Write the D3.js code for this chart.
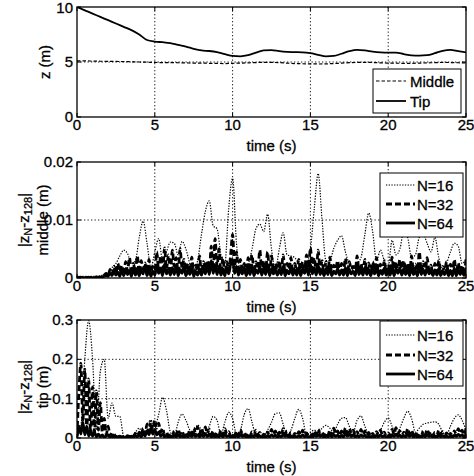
<!DOCTYPE html>
<html><head><meta charset="utf-8">
<script src="https://cdn.jsdelivr.net/npm/d3@7"></script>
<style>
body{margin:0;background:#fff}
text{font-family:"Liberation Sans",Arial,Helvetica,sans-serif;fill:#000;stroke:#000;stroke-width:0.3}
</style></head><body>
<svg id="c" width="474" height="476"></svg>
<script>
// ---------- DATA ----------
const xTicks = [0,5,10,15,20,25];
// Panel 1: z (m), sampled every 0.5 s
const tipZ = [10,9.7,9.4,9.1,8.8,8.5,8.2,7.9,7.5,7.0,
  6.85,6.8,6.72,6.55,6.4,6.2,6.05,6.0,5.9,5.72,
  5.55,5.52,5.62,5.85,6.05,6.08,5.98,5.92,5.9,5.88,
  5.8,5.65,5.52,5.55,5.75,5.98,6.1,6.05,5.95,5.88,
  5.85,5.85,5.72,5.6,5.58,5.62,5.8,6.02,6.1,5.98,5.88];
const middleZ = [5.1,5.1,5.08,5.07,5.06,5.05,5.04,5.02,5.0,4.98,
  4.96,4.95,4.95,4.93,4.92,4.9,4.9,4.88,4.87,4.86,
  4.88,4.9,4.92,4.95,4.97,4.96,4.94,4.9,4.86,4.84,
  4.83,4.82,4.83,4.86,4.9,4.94,4.96,4.97,4.95,4.92,
  4.9,4.89,4.88,4.88,4.9,4.92,4.94,4.96,4.95,4.93,4.92];
const yTicks1 = [0,5,10];

// Panel 2: |zN - z128| middle, in mm (x1e-3 m)
// N=16 sampled every 0.25 s
const mid16 = [0.3,0.3,0.3,0.3, 0.3,0.3,0.4,0.6, 1.0,1.8,2.5,3.8, 4.8,4.2,2.5,3.0,
  7.0,9.8,6.0,1.8, 4.5,6.8,3.0,4.5, 6.2,6.0,4.0,6.3, 5.0,2.5,1.5,3.0,
  7.5,11.5,13.3,9.0, 8.5,4.0,2.5,12.0, 17.2,6.0,1.5,2.0, 2.5,5.0,8.5,9.3,
  8.0,11.0,5.0,1.5, 5.0,7.8,4.0,3.8, 3.5,2.5,2.0,2.5, 5.0,12.0,18.0,10.0,
  3.0,3.0,5.1,6.5, 7.3,4.5,2.5,2.0, 2.5,3.5,7.5,11.2, 8.0,3.0,4.8,3.0,
  2.0,6.5,4.0,5.0, 8.0,7.0,3.5,4.0, 7.0,7.5,6.0,4.5, 7.0,3.5,1.5,2.5,
  4.5,6.0,5.5,2.5, 3.2];
// N=32 and N=64 sampled every 0.125 s
const mid32 = [
  0.1,0.1,0.1,0.1,0.1,0.1,0.1,0.1,
  0.1,0.1,0.2,0.1,0.2,0.3,0.5,0.8,
  0.4,1.5,0.6,2.0,0.8,2.5,1.0,2.2,
  0.5,2.8,1.2,3.5,0.6,2.5,1.0,3.8,
  0.8,3.0,1.5,2.6,0.4,3.2,1.0,2.0,
  0.5,4.5,1.2,3.8,0.8,5.2,1.5,4.0,
  0.6,4.8,2.0,3.5,1.0,5.0,1.8,3.2,
  0.5,2.5,1.0,3.6,0.8,2.2,1.2,3.8,
  0.6,2.8,1.5,3.0,0.8,5.5,1.5,6.8,
  2.0,5.0,1.0,3.5,0.5,2.8,1.2,4.0,
  7.5,2.0,4.5,0.8,3.2,1.5,2.5,0.6,
  3.5,1.2,4.0,0.8,2.8,1.6,4.8,1.0,
  3.0,1.5,4.5,0.7,3.8,1.0,2.5,0.6,
  3.0,1.0,4.0,0.8,2.5,1.5,3.5,0.8,
  2.5,1.0,3.2,0.6,2.8,1.4,4.0,1.0,
  5.2,1.5,3.5,0.8,4.8,1.2,3.0,0.6,
  2.8,1.2,3.6,0.5,2.2,1.5,3.0,0.8,
  2.5,1.0,3.4,0.7,2.8,1.5,2.0,0.6,
  3.8,1.2,2.5,0.8,3.2,1.0,2.6,0.5,
  2.8,1.4,3.5,0.6,2.4,1.0,3.0,0.8,
  2.2,1.0,3.6,0.7,2.8,1.5,3.2,0.8,
  3.0,1.2,2.6,0.6,3.8,1.0,2.4,0.5,
  4.5,1.2,2.8,0.8,3.5,1.4,2.2,0.6,
  2.5,1.0,3.0,0.7,2.0,1.2,2.8,0.6,
  2.4,0.8,3.2,0.6,2.6,1.0,2.2,0.5,
  3.5];
const mid64 = [
  0.05,0.05,0.05,0.05,0.05,0.05,0.05,0.05,
  0.05,0.05,0.1,0.1,0.15,0.2,0.3,0.4,
  0.3,0.9,0.4,1.2,0.5,1.0,0.3,1.4,
  0.4,1.6,0.6,1.2,0.3,1.8,0.5,1.3,
  0.4,1.5,0.7,2.2,0.5,1.4,0.3,1.2,
  0.6,2.0,0.8,1.6,0.4,2.4,0.7,1.5,
  0.5,1.8,0.6,2.2,0.4,1.5,0.8,2.0,
  0.4,1.4,0.6,1.8,0.3,1.2,0.5,1.6,
  0.5,1.8,0.7,2.5,0.6,3.0,0.8,2.2,
  0.6,2.0,0.5,1.6,0.4,1.8,0.7,2.4,
  3.2,0.8,2.0,0.5,1.5,0.7,1.8,0.4,
  1.6,0.6,2.2,0.4,1.4,0.8,2.0,0.5,
  1.8,0.6,2.4,0.4,1.6,0.7,1.4,0.5,
  1.5,0.6,2.0,0.4,1.3,0.7,1.8,0.5,
  1.4,0.5,1.8,0.4,1.6,0.8,2.0,0.5,
  2.4,0.7,1.8,0.5,2.2,0.6,1.5,0.4,
  1.6,0.6,2.0,0.4,1.2,0.7,1.6,0.5,
  1.4,0.5,1.8,0.4,1.5,0.7,1.2,0.4,
  2.0,0.6,1.4,0.5,1.8,0.6,1.5,0.4,
  1.6,0.7,1.9,0.4,1.3,0.6,1.7,0.5,
  1.3,0.5,1.9,0.4,1.6,0.8,1.7,0.5,
  1.6,0.6,1.4,0.4,2.0,0.6,1.3,0.4,
  2.2,0.6,1.5,0.5,1.8,0.7,1.2,0.4,
  1.4,0.5,1.6,0.4,1.1,0.6,1.5,0.4,
  1.3,0.4,1.7,0.4,1.4,0.6,1.2,0.4,
  1.8];
const yTicks2 = [0,0.01,0.02];

// Panel 3: |zN - z128| tip, in cm (x1e-2 m)
const tip16 = [0.5,3,20,29.8, 20,2,17,20, 5,8.9,5.5,5.5, 0.5,0.3,0.3,1.5,
  2.5,0.8,3.4,4.5, 3.0,6.0,10.3,7.0, 1.5,0.5,4.0,6.1, 4.5,2.0,1.2,3.3,
  2.0,1.0,3.0,5.5, 4.5,0.8,4.0,6.5, 5.0,1.0,2.0,6.0, 7.5,4.0,0.8,1.5,
  0.8,2.0,4.0,6.2, 6.4,3.5,0.8,2.0, 5.0,7.3,5.0,0.8, 1.5,2.0,1.5,2.5,
  3.2,2.5,1.5,3.5, 5.0,5.2,3.0,1.5, 4.5,5.6,3.0,0.8, 0.5,1.0,2.0,4.0,
  5.1,3.0,0.8,2.5, 5.0,6.8,5.0,1.5, 2.5,3.5,3.8,4.0, 4.1,3.5,1.5,0.8,
  3.0,5.0,5.9,4.5, 2.0];
const tip32 = [
  0.5,12,19,4,17.5,2,15,1,
  13,1.5,12,2,9,1.5,5,0.8,
  3.0,0.5,1.5,0.3,0.8,0.3,0.5,0.2,
  0.5,0.2,0.6,0.3,0.8,0.4,1.2,0.5,
  1.5,0.6,2.5,1.0,3.5,1.5,4.2,2.0,
  4.5,2.5,3.8,1.5,2.5,0.8,1.5,0.5,
  1.2,0.6,1.8,0.8,2.2,1.0,1.8,0.6,
  1.5,0.8,2.0,1.0,2.5,1.2,2.8,1.0,
  2.5,1.2,2.8,1.0,2.2,0.8,1.8,0.6,
  1.5,0.8,2.0,0.8,2.4,1.0,1.6,0.6,
  1.2,0.6,1.8,0.7,2.2,1.0,1.5,0.5,
  1.3,0.6,1.6,0.8,2.0,0.7,1.4,0.5,
  1.0,0.5,1.5,0.7,2.2,0.9,1.8,0.6,
  1.5,0.7,2.4,1.0,1.8,0.6,1.4,0.5,
  1.2,0.6,1.6,0.8,2.0,0.7,1.3,0.5,
  1.0,0.5,1.8,0.9,2.2,1.0,1.6,0.6,
  1.4,0.7,2.0,0.8,2.5,1.0,1.8,0.6,
  1.8,0.8,2.6,1.2,2.4,1.0,2.0,0.7,
  1.6,0.7,2.2,0.9,1.8,0.6,1.4,0.5,
  1.2,0.5,1.6,0.7,2.0,0.8,1.5,0.5,
  1.3,0.6,2.2,1.0,2.6,1.1,1.8,0.6,
  1.5,0.7,2.4,1.0,2.0,0.8,1.6,0.5,
  1.2,0.6,1.8,0.8,2.2,1.0,1.6,0.6,
  1.4,0.6,2.0,0.9,1.6,0.7,1.3,0.5,
  1.2,0.6,1.8,0.9,2.4,1.2,2.0,0.8,
  2.5];
const tip64 = [
  0.2,3,1,4,0.8,3,0.5,2,
  0.5,1.5,0.3,1.0,0.3,0.8,0.2,0.5,
  0.8,0.2,0.6,0.1,0.5,0.2,0.4,0.1,
  0.3,0.1,0.4,0.2,0.5,0.2,0.6,0.3,
  0.8,0.3,1.2,0.5,1.8,0.8,2.5,1.0,
  2.2,0.8,1.5,0.5,1.0,0.3,0.6,0.2,
  0.5,0.2,0.7,0.3,0.8,0.3,0.6,0.2,
  0.6,0.3,0.9,0.4,1.0,0.4,0.8,0.3,
  0.9,0.4,1.1,0.4,0.9,0.3,0.7,0.2,
  0.6,0.3,0.8,0.3,0.9,0.4,0.6,0.2,
  0.5,0.2,0.7,0.3,0.8,0.4,0.6,0.2,
  0.5,0.2,0.6,0.3,0.8,0.3,0.5,0.2,
  0.4,0.2,0.6,0.3,0.8,0.4,0.7,0.2,
  0.6,0.3,0.9,0.4,0.7,0.2,0.5,0.2,
  0.5,0.2,0.6,0.3,0.8,0.3,0.5,0.2,
  0.4,0.2,0.7,0.4,0.8,0.4,0.6,0.2,
  0.5,0.3,0.8,0.3,0.9,0.4,0.7,0.2,
  0.7,0.3,1.0,0.5,0.9,0.4,0.8,0.3,
  0.6,0.3,0.8,0.4,0.7,0.2,0.5,0.2,
  0.5,0.2,0.6,0.3,0.8,0.3,0.6,0.2,
  0.5,0.2,0.8,0.4,1.0,0.4,0.7,0.2,
  0.6,0.3,0.9,0.4,0.8,0.3,0.6,0.2,
  0.5,0.2,0.7,0.3,0.8,0.4,0.6,0.2,
  0.5,0.2,0.8,0.3,0.6,0.3,0.5,0.2,
  0.5,0.2,0.7,0.4,0.9,0.5,0.8,0.3,
  1.0];
const yTicks3 = [0,0.1,0.2,0.3];

const legend1 = ["Middle","Tip"];
const legendN = ["N=16","N=32","N=64"];

// ---------- DRAW ----------
const svg = d3.select("#c");
const X0 = 77, X1 = 466;
const FS = 15;

const styles = {
  middle:{w:1.2, dash:"3.5,2"},
  tip:{w:1.8, dash:null},
  n16:{w:1.2, dash:"1.3,1.4"},
  n32:{w:2.8, dash:"6,3"},
  n64:{w:2.8, dash:null}
};

function toSeries(vals, dt, k){ return vals.map((v,i)=>({t:i*dt, v:v*k})); }

function panel(o){
  const x = d3.scaleLinear().domain([0,25]).range([X0,X1]);
  const y = d3.scaleLinear().domain(o.ydom).range([o.bottom,o.top]);
  const g = svg.append("g");
  const cid = "clip"+o.id;
  svg.append("clipPath").attr("id",cid).append("rect")
    .attr("x",X0).attr("y",o.top).attr("width",X1-X0).attr("height",o.bottom-o.top);

  // grid
  const grid = g.append("g").attr("stroke","#000").attr("stroke-width",0.9).attr("stroke-dasharray","1.3,2.2");
  xTicks.slice(1,-1).forEach(t=>grid.append("line").attr("x1",x(t)).attr("x2",x(t)).attr("y1",o.top).attr("y2",o.bottom));
  o.yticks.slice(1,-1).forEach(t=>grid.append("line").attr("x1",X0).attr("x2",X1).attr("y1",y(t)).attr("y2",y(t)));

  // series
  const line = d3.line().x(d=>x(d.t)).y(d=>y(d.v)).curve(d3.curveMonotoneX);
  const sg = g.append("g").attr("clip-path",`url(#${cid})`);
  o.series.forEach(s=>{
    sg.append("path").datum(s.data).attr("d",line).attr("fill","none")
      .attr("stroke","#000").attr("stroke-width",s.st.w)
      .attr("stroke-dasharray",s.st.dash).attr("stroke-linejoin","round");
  });

  // frame
  g.append("rect").attr("x",X0).attr("y",o.top).attr("width",X1-X0).attr("height",o.bottom-o.top)
    .attr("fill","none").attr("stroke","#000").attr("stroke-width",1.3);
  // inner ticks
  const tk = g.append("g").attr("stroke","#000").attr("stroke-width",1);
  xTicks.forEach(t=>{
    tk.append("line").attr("x1",x(t)).attr("x2",x(t)).attr("y1",o.bottom).attr("y2",o.bottom-4);
    tk.append("line").attr("x1",x(t)).attr("x2",x(t)).attr("y1",o.top).attr("y2",o.top+4);
  });
  o.yticks.forEach(t=>{
    tk.append("line").attr("x1",X0).attr("x2",X0+4).attr("y1",y(t)).attr("y2",y(t));
    tk.append("line").attr("x1",X1).attr("x2",X1-4).attr("y1",y(t)).attr("y2",y(t));
  });

  // tick labels
  xTicks.forEach(t=>g.append("text").attr("x",x(t)).attr("y",o.bottom+13).attr("text-anchor","middle")
    .attr("font-size",FS).text(t));
  o.yticks.forEach(t=>g.append("text").attr("x",X0-4).attr("y",Math.max(y(t)+5, 13)).attr("text-anchor","end")
    .attr("font-size",FS).text(t));
  g.append("text").attr("x",(X0+X1)/2).attr("y",o.bottom+34).attr("text-anchor","middle")
    .attr("font-size",FS).text("time (s)");

  // y label
  o.ylabel(g, o.labelY);

  // legend
  const L = o.legend;
  const lg = g.append("g");
  lg.append("rect").attr("x",L.x0).attr("y",L.y0).attr("width",L.x1-L.x0).attr("height",L.y1-L.y0)
    .attr("fill","#fff").attr("stroke","#000").attr("stroke-width",1);
  L.items.forEach((it,i)=>{
    const cy = L.rows[i];
    lg.append("line").attr("x1",L.lx0).attr("x2",L.lx1).attr("y1",cy).attr("y2",cy)
      .attr("stroke","#000").attr("stroke-width",it.st.w).attr("stroke-dasharray",it.st.dash);
    lg.append("text").attr("x",L.tx).attr("y",cy+5.5).attr("font-size",FS).text(it.label);
  });
}

function zLabel(g, cy, second){
  const t1 = g.append("text").attr("transform",`translate(29,${cy}) rotate(-90)`)
    .attr("text-anchor","middle").attr("font-size",FS);
  t1.append("tspan").text("|z");
  t1.append("tspan").attr("font-size",11).attr("dy",3).text("N");
  t1.append("tspan").attr("dy",-3).text("-z");
  t1.append("tspan").attr("font-size",11).attr("dy",3).text("128");
  t1.append("tspan").attr("dy",-3).text("|");
  g.append("text").attr("transform",`translate(48,${cy}) rotate(-90)`)
    .attr("text-anchor","middle").attr("font-size",FS).text(second);
}

panel({id:1, top:7, bottom:117, ydom:[0,10], yticks:yTicks1, labelY:62,
  series:[{data:toSeries(middleZ,0.5,1), st:styles.middle},{data:toSeries(tipZ,0.5,1), st:styles.tip}],
  ylabel:(g,cy)=>g.append("text").attr("transform",`translate(50,${cy}) rotate(-90)`)
    .attr("text-anchor","middle").attr("font-size",FS).text("z (m)"),
  legend:{x0:373,x1:461,y0:69,y1:113, rows:[81,101], lx0:376, lx1:406, tx:410,
    items:[{label:legend1[0],st:styles.middle},{label:legend1[1],st:styles.tip}]}
});

panel({id:2, top:162, bottom:278, ydom:[0,0.02], yticks:yTicks2, labelY:220,
  series:[{data:toSeries(mid16,0.25,1e-3), st:styles.n16},
          {data:toSeries(mid32,0.125,1e-3), st:styles.n32},
          {data:toSeries(mid64,0.125,1e-3), st:styles.n64}],
  ylabel:(g,cy)=>zLabel(g,cy,"middle (m)"),
  legend:{x0:380,x1:463,y0:173,y1:237, rows:[185,204,223], lx0:386, lx1:415, tx:417,
    items:legendN.map((l,i)=>({label:l, st:[styles.n16,styles.n32,styles.n64][i]}))}
});

panel({id:3, top:320, bottom:438, ydom:[0,0.3], yticks:yTicks3, labelY:387,
  series:[{data:toSeries(tip16,0.25,1e-2), st:styles.n16},
          {data:toSeries(tip32,0.125,1e-2), st:styles.n32},
          {data:toSeries(tip64,0.125,1e-2), st:styles.n64}],
  ylabel:(g,cy)=>zLabel(g,cy,"tip (m)"),
  legend:{x0:380,x1:463,y0:321,y1:386, rows:[335,355,374], lx0:386, lx1:415, tx:417,
    items:legendN.map((l,i)=>({label:l, st:[styles.n16,styles.n32,styles.n64][i]}))}
});
</script></body></html>
